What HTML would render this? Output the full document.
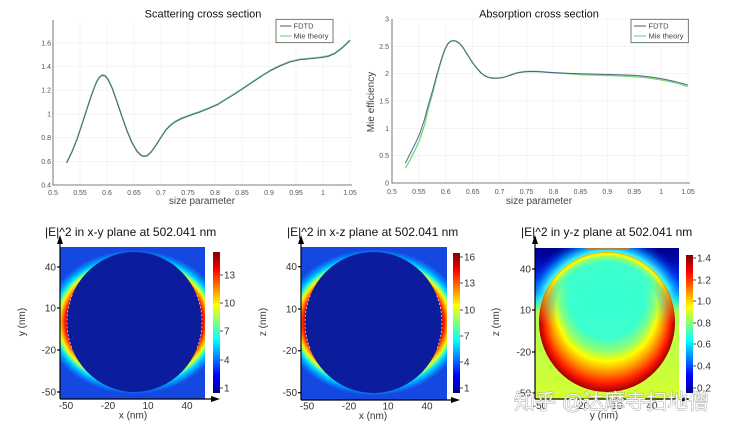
<!DOCTYPE html>
<html><head><meta charset="utf-8"><style>html,body{margin:0;padding:0;background:#fff}svg{display:block}</style></head>
<body>
<svg xmlns="http://www.w3.org/2000/svg" width="732" height="432" viewBox="0 0 732 432" font-family="Liberation Sans, sans-serif">
<defs>
  <linearGradient id="jet" x1="0" y1="0" x2="0" y2="1">
    <stop offset="0" stop-color="#800000"/>
    <stop offset="0.125" stop-color="#ff0000"/>
    <stop offset="0.375" stop-color="#ffff00"/>
    <stop offset="0.625" stop-color="#00ffff"/>
    <stop offset="0.875" stop-color="#0000ff"/>
    <stop offset="1" stop-color="#00008f"/>
  </linearGradient>
  <radialGradient id="glow" cx="0.5" cy="0.5" r="0.5">
    <stop offset="0" stop-color="#0b1d9d"/>
    <stop offset="0.74" stop-color="#8a0000"/>
    <stop offset="0.755" stop-color="#d00000"/>
    <stop offset="0.78" stop-color="#ff3000"/>
    <stop offset="0.81" stop-color="#ffa000"/>
    <stop offset="0.84" stop-color="#f0ff10"/>
    <stop offset="0.87" stop-color="#60ffa0"/>
    <stop offset="0.9" stop-color="#00d8ff"/>
    <stop offset="0.94" stop-color="#0090ff"/>
    <stop offset="1" stop-color="#1548e0"/>
  </radialGradient>
  <linearGradient id="bg3" gradientUnits="userSpaceOnUse" x1="0" y1="248" x2="0" y2="400">
    <stop offset="0" stop-color="#00008a"/>
    <stop offset="0.09" stop-color="#0008b0"/>
    <stop offset="0.2" stop-color="#0030f0"/>
    <stop offset="0.28" stop-color="#0090ff"/>
    <stop offset="0.34" stop-color="#30f0d0"/>
    <stop offset="0.42" stop-color="#b0ff50"/>
    <stop offset="1" stop-color="#d4ff30"/>
  </linearGradient>
  <radialGradient id="halo3" cx="0.5" cy="0.5" r="0.5">
    <stop offset="0.76" stop-color="#70ffa0" stop-opacity="1"/>
    <stop offset="0.8" stop-color="#30e8ff" stop-opacity="1"/>
    <stop offset="0.87" stop-color="#0090ff" stop-opacity="0.8"/>
    <stop offset="0.94" stop-color="#0040e0" stop-opacity="0.4"/>
    <stop offset="1" stop-color="#0020c0" stop-opacity="0"/>
  </radialGradient>
  <linearGradient id="mk3g" gradientUnits="userSpaceOnUse" x1="0" y1="248" x2="0" y2="400">
    <stop offset="0" stop-color="#fff"/>
    <stop offset="0.26" stop-color="#fff"/>
    <stop offset="0.4" stop-color="#000"/>
    <stop offset="1" stop-color="#000"/>
  </linearGradient>
  <mask id="mk3"><rect x="530" y="240" width="160" height="170" fill="url(#mk3g)"/></mask>
  <linearGradient id="mkin" gradientUnits="userSpaceOnUse" x1="0" y1="248" x2="0" y2="400">
    <stop offset="0" stop-color="#000"/>
    <stop offset="0.2" stop-color="#000"/>
    <stop offset="0.5" stop-color="#fff"/>
    <stop offset="1" stop-color="#fff"/>
  </linearGradient>
  <mask id="mkin3"><rect x="530" y="240" width="160" height="170" fill="url(#mkin)"/></mask>
  <radialGradient id="in3" cx="0.5" cy="0.5" r="0.5" fx="0.5" fy="0.15">
    <stop offset="0" stop-color="#38ffd4"/>
    <stop offset="0.55" stop-color="#3cffcc"/>
    <stop offset="0.66" stop-color="#90ff70"/>
    <stop offset="0.74" stop-color="#ffff00"/>
    <stop offset="0.84" stop-color="#ff8c00"/>
    <stop offset="0.93" stop-color="#ff1a00"/>
    <stop offset="1" stop-color="#a00000"/>
  </radialGradient>
  <radialGradient id="rim3" cx="0.5" cy="0.5" r="0.5">
    <stop offset="0" stop-color="#38ffd4"/>
    <stop offset="0.85" stop-color="#3cffcc"/>
    <stop offset="0.93" stop-color="#90ff70"/>
    <stop offset="0.975" stop-color="#ffff00"/>
    <stop offset="1" stop-color="#ffa000"/>
  </radialGradient>
  <clipPath id="c1"><rect x="60" y="247" width="145" height="152"/></clipPath>
  <clipPath id="c2"><rect x="301" y="247" width="146" height="153"/></clipPath>
  <clipPath id="c3"><rect x="535" y="248" width="144" height="151"/></clipPath>
</defs>

<rect width="732" height="432" fill="#fff"/>

<!-- ============ TOP LEFT: Scattering ============ -->
<g stroke="#eeeeee" stroke-width="0.6">
  <line x1="80" y1="20" x2="80" y2="185"/><line x1="107" y1="20" x2="107" y2="185"/>
  <line x1="134" y1="20" x2="134" y2="185"/><line x1="161" y1="20" x2="161" y2="185"/>
  <line x1="188" y1="20" x2="188" y2="185"/><line x1="215" y1="20" x2="215" y2="185"/>
  <line x1="242" y1="20" x2="242" y2="185"/><line x1="269" y1="20" x2="269" y2="185"/>
  <line x1="296" y1="20" x2="296" y2="185"/><line x1="323" y1="20" x2="323" y2="185"/>
  <line x1="350" y1="20" x2="350" y2="185"/>
  <line x1="53" y1="161.3" x2="352" y2="161.3"/><line x1="53" y1="137.6" x2="352" y2="137.6"/>
  <line x1="53" y1="113.9" x2="352" y2="113.9"/><line x1="53" y1="90.2" x2="352" y2="90.2"/>
  <line x1="53" y1="66.5" x2="352" y2="66.5"/><line x1="53" y1="42.8" x2="352" y2="42.8"/>
</g>
<g stroke="#555" stroke-width="0.8" fill="none">
  <line x1="53" y1="20" x2="53" y2="185.5"/>
  <line x1="52.5" y1="185" x2="352" y2="185"/>
</g>
<g font-size="7" fill="#555" text-anchor="middle">
  <text x="53" y="195">0.5</text><text x="80" y="195">0.55</text><text x="107" y="195">0.6</text>
  <text x="134" y="195">0.65</text><text x="161" y="195">0.7</text><text x="188" y="195">0.75</text>
  <text x="215" y="195">0.8</text><text x="242" y="195">0.85</text><text x="269" y="195">0.9</text>
  <text x="296" y="195">0.95</text><text x="323" y="195">1</text><text x="350" y="195">1.05</text>
</g>
<g font-size="7" fill="#555" text-anchor="end">
  <text x="51" y="187.5">0.4</text><text x="51" y="163.8">0.6</text><text x="51" y="140.1">0.8</text>
  <text x="51" y="116.4">1</text><text x="51" y="92.7">1.2</text><text x="51" y="69">1.4</text>
  <text x="51" y="45.3">1.6</text>
</g>
<text x="203" y="17.5" font-size="11" fill="#111" text-anchor="middle">Scattering cross section</text>
<text x="202" y="204" font-size="10" fill="#444" text-anchor="middle">size parameter</text>
<polyline fill="none" stroke="#7ad87a" stroke-width="1.5" stroke-linejoin="round" transform="translate(0,-0.6)"
 points="66.7,163 72,152 77,139.5 82,124.5 87,109 92,94 96,83.5 99,78 102,75.5 105,76 108,79.5 112,88 117,102 122,117 127,131 132,143 137,151.5 141,155.5 144,156.5 147,156 151,152.5 156,145.5 161,137.5 166,130 171,125 176,121.5 182,118.5 190,115.5 200,112 210,108 218,104.5 226,99.5 235,94 244,88 253,82 262,76 271,70.5 280,66 290,62 300,59.8 310,58.8 320,57.8 328,56.5 335,53.5 341,49 346,44.5 350,40.5"/>
<polyline fill="none" stroke="#44557f" stroke-width="1" stroke-linejoin="round" opacity="0.9"
 points="66.7,163 72,152 77,139.5 82,124.5 87,109 92,94 96,83.5 99,78 102,75.5 105,76 108,79.5 112,88 117,102 122,117 127,131 132,143 137,151.5 141,155.5 144,156.5 147,156 151,152.5 156,145.5 161,137.5 166,130 171,125 176,121.5 182,118.5 190,115.5 200,112 210,108 218,104.5 226,99.5 235,94 244,88 253,82 262,76 271,70.5 280,66 290,62 300,59.8 310,58.8 320,57.8 328,56.5 335,53.5 341,49 346,44.5 350,40.5"/>
<rect x="276" y="19.3" width="57" height="23.4" fill="#fff" stroke="#555" stroke-width="0.8"/>
<line x1="280" y1="26" x2="291.5" y2="26" stroke="#44557f" stroke-width="1"/>
<line x1="280" y1="36" x2="291.5" y2="36" stroke="#7ad87a" stroke-width="1.2"/>
<text x="293.5" y="28.5" font-size="7.5" fill="#444">FDTD</text>
<text x="293.5" y="38.5" font-size="7.5" fill="#444">Mie theory</text>

<!-- ============ TOP RIGHT: Absorption ============ -->
<g stroke="#eeeeee" stroke-width="0.6">
  <line x1="418.9" y1="19" x2="418.9" y2="183"/><line x1="445.8" y1="19" x2="445.8" y2="183"/>
  <line x1="472.7" y1="19" x2="472.7" y2="183"/><line x1="499.6" y1="19" x2="499.6" y2="183"/>
  <line x1="526.5" y1="19" x2="526.5" y2="183"/><line x1="553.5" y1="19" x2="553.5" y2="183"/>
  <line x1="580.4" y1="19" x2="580.4" y2="183"/><line x1="607.3" y1="19" x2="607.3" y2="183"/>
  <line x1="634.2" y1="19" x2="634.2" y2="183"/><line x1="661.1" y1="19" x2="661.1" y2="183"/>
  <line x1="688" y1="19" x2="688" y2="183"/>
  <line x1="392" y1="155.7" x2="690" y2="155.7"/><line x1="392" y1="128.3" x2="690" y2="128.3"/>
  <line x1="392" y1="101" x2="690" y2="101"/><line x1="392" y1="73.7" x2="690" y2="73.7"/>
  <line x1="392" y1="46.3" x2="690" y2="46.3"/><line x1="392" y1="19" x2="690" y2="19"/>
</g>
<g stroke="#555" stroke-width="0.8" fill="none">
  <line x1="392" y1="19" x2="392" y2="183.5"/>
  <line x1="391.5" y1="183" x2="690" y2="183"/>
</g>
<g font-size="7" fill="#555" text-anchor="middle">
  <text x="392" y="194">0.5</text><text x="418.9" y="194">0.55</text><text x="445.8" y="194">0.6</text>
  <text x="472.7" y="194">0.65</text><text x="499.6" y="194">0.7</text><text x="526.5" y="194">0.75</text>
  <text x="553.5" y="194">0.8</text><text x="580.4" y="194">0.85</text><text x="607.3" y="194">0.9</text>
  <text x="634.2" y="194">0.95</text><text x="661.1" y="194">1</text><text x="688" y="194">1.05</text>
</g>
<g font-size="7" fill="#555" text-anchor="end">
  <text x="389" y="185.5">0</text><text x="389" y="158.2">0.5</text><text x="389" y="130.8">1</text>
  <text x="389" y="103.5">1.5</text><text x="389" y="76.2">2</text><text x="389" y="48.8">2.5</text>
  <text x="389" y="21.5">3</text>
</g>
<text x="539" y="17.5" font-size="11" fill="#111" text-anchor="middle">Absorption cross section</text>
<text x="539" y="204" font-size="10" fill="#444" text-anchor="middle">size parameter</text>
<text transform="translate(374,102) rotate(-90)" font-size="10" fill="#444" text-anchor="middle">Mie efficiency</text>
<polyline fill="none" stroke="#7ad87a" stroke-width="1.4" stroke-linejoin="round"
 points="405.3,168.3 410,160 416,148 420,139 424.3,125.5 428,110 432.7,93 437,76 441,61.5 444.5,50.5 447.7,44 450.5,41.2 453.3,40.4 456,41 459.3,43.1 463,47.3 466,52.3 469.5,57.8 472.7,62.8 477,68.3 481,72.8 485,75.8 489.3,77.5 493.5,78.1 497.7,78.1 502,77.6 506,76.5 511,74.8 516,73.1 521,72.1 526,71.5 533,71.3 539.3,71.5 552,72.6 566,73.5 580,74.5 599.3,75.2 616,75.8 632.7,76.5 646,77.6 659.3,79.5 668,81.2 676,83 682,84.6 687.7,86.5"/>
<polyline fill="none" stroke="#44557f" stroke-width="1" stroke-linejoin="round" opacity="0.9"
 points="405.3,163.3 410,154 416,142 420,133 424.3,120 428,106 432.7,90 437,74 441,60.5 444.5,50 447.7,44 450.5,41.5 453.3,40.7 456,41.2 459.3,43.3 463,47.5 466,52.5 469.5,58 472.7,63 477,68.5 481,73 485,76 489.3,77.7 493.5,78.3 497.7,78.3 502,77.8 506,76.7 511,75 516,73.3 521,72.3 526,71.7 533,71.5 539.3,71.7 552,72.6 566,73.3 580,73.7 599.3,74.2 616,74.6 632.7,75.2 646,76.4 659.3,78.3 668,80 676,81.8 682,83.3 687.7,85"/>
<rect x="631" y="19.3" width="57.3" height="23.4" fill="#fff" stroke="#555" stroke-width="0.8"/>
<line x1="634" y1="26" x2="646" y2="26" stroke="#44557f" stroke-width="1"/>
<line x1="634" y1="36" x2="646" y2="36" stroke="#7ad87a" stroke-width="1.2"/>
<text x="648.5" y="28.5" font-size="7.5" fill="#444">FDTD</text>
<text x="648.5" y="38.5" font-size="7.5" fill="#444">Mie theory</text>

<!-- ============ HEATMAP 1: x-y ============ -->
<g clip-path="url(#c1)">
  <rect x="60" y="247" width="145" height="152" fill="#1548e0"/>
  <ellipse cx="134.5" cy="322" rx="90" ry="72" fill="url(#glow)"/>
  <ellipse cx="134.5" cy="322" rx="67.5" ry="70" fill="#0b1d9d"/>
  <path d="M72.2,295 A67.5,70 0 0 0 72.2,349" fill="none" stroke="#fff" stroke-width="0.8" stroke-dasharray="2 2" opacity="0.8"/>
  <path d="M196.8,295 A67.5,70 0 0 1 196.8,349" fill="none" stroke="#fff" stroke-width="0.8" stroke-dasharray="2 2" opacity="0.8"/>
</g>
<rect x="213" y="252" width="7" height="141" fill="url(#jet)"/>
<g stroke="#222" stroke-width="0.8">
  <line x1="220" y1="275" x2="223" y2="275"/><line x1="220" y1="303" x2="223" y2="303"/>
  <line x1="220" y1="331" x2="223" y2="331"/><line x1="220" y1="360" x2="223" y2="360"/>
  <line x1="220" y1="388" x2="223" y2="388"/>
</g>
<g font-size="10" fill="#333">
  <text x="224" y="278.5">13</text><text x="224" y="306.5">10</text><text x="224" y="334.5">7</text>
  <text x="224" y="363.5">4</text><text x="224" y="391.5">1</text>
</g>
<text x="45" y="236" font-size="12" fill="#111">|E|^2 in x-y plane at 502.041 nm</text>
<g stroke="#000" stroke-width="1.2">
  <line x1="60" y1="399" x2="60" y2="242"/>
  <line x1="60" y1="399" x2="212" y2="399"/>
  <line x1="57" y1="267" x2="60" y2="267"/><line x1="57" y1="308" x2="60" y2="308"/>
  <line x1="57" y1="350" x2="60" y2="350"/><line x1="57" y1="392" x2="60" y2="392"/>
</g>
<polygon points="60,235 57,244 63,244" fill="#000"/>
<polygon points="220,399 211,396 211,402" fill="#000"/>
<g font-size="10" fill="#333" text-anchor="end">
  <text x="56" y="270.5">40</text><text x="56" y="311.5">10</text>
  <text x="56" y="353.5">-20</text><text x="56" y="395.5">-50</text>
</g>
<g font-size="10" fill="#333" text-anchor="middle">
  <text x="66" y="409">-50</text><text x="108" y="409">-20</text>
  <text x="148" y="409">10</text><text x="187" y="409">40</text>
  <text x="133" y="418.5">x (nm)</text>
</g>
<text transform="translate(25,322) rotate(-90)" font-size="10" fill="#333" text-anchor="middle">y (nm)</text>

<!-- ============ HEATMAP 2: x-z ============ -->
<g clip-path="url(#c2)">
  <rect x="301" y="247" width="146" height="153" fill="#1548e0"/>
  <ellipse cx="373.5" cy="322.5" rx="91.3" ry="73" fill="url(#glow)"/>
  <ellipse cx="373.5" cy="322.5" rx="68.5" ry="70.5" fill="#0b1d9d"/>
  <path d="M310.3,295.5 A68.5,70.5 0 0 0 310.3,349.5" fill="none" stroke="#fff" stroke-width="0.8" stroke-dasharray="2 2" opacity="0.8"/>
  <path d="M436.7,295.5 A68.5,70.5 0 0 1 436.7,349.5" fill="none" stroke="#fff" stroke-width="0.8" stroke-dasharray="2 2" opacity="0.8"/>
</g>
<rect x="453" y="253" width="7" height="140" fill="url(#jet)"/>
<g stroke="#222" stroke-width="0.8">
  <line x1="460" y1="257" x2="463" y2="257"/><line x1="460" y1="283" x2="463" y2="283"/>
  <line x1="460" y1="310" x2="463" y2="310"/><line x1="460" y1="336" x2="463" y2="336"/>
  <line x1="460" y1="362" x2="463" y2="362"/><line x1="460" y1="388" x2="463" y2="388"/>
</g>
<g font-size="10" fill="#333">
  <text x="464" y="260.5">16</text><text x="464" y="286.5">13</text><text x="464" y="313.5">10</text>
  <text x="464" y="339.5">7</text><text x="464" y="365.5">4</text><text x="464" y="391.5">1</text>
</g>
<text x="287" y="236" font-size="12" fill="#111">|E|^2 in x-z plane at 502.041 nm</text>
<g stroke="#000" stroke-width="1.2">
  <line x1="301" y1="400" x2="301" y2="242"/>
  <line x1="301" y1="400" x2="452" y2="400"/>
  <line x1="298" y1="266.7" x2="301" y2="266.7"/><line x1="298" y1="309" x2="301" y2="309"/>
  <line x1="298" y1="350.7" x2="301" y2="350.7"/><line x1="298" y1="392.7" x2="301" y2="392.7"/>
</g>
<polygon points="301,235 298,244 304,244" fill="#000"/>
<polygon points="460,400 451,397 451,403" fill="#000"/>
<g font-size="10" fill="#333" text-anchor="end">
  <text x="297" y="270.2">40</text><text x="297" y="312.5">10</text>
  <text x="297" y="354.2">-20</text><text x="297" y="396.2">-50</text>
</g>
<g font-size="10" fill="#333" text-anchor="middle">
  <text x="307" y="409.5">-50</text><text x="349" y="409.5">-20</text>
  <text x="388" y="409.5">10</text><text x="427" y="409.5">40</text>
  <text x="373" y="419">x (nm)</text>
</g>
<text transform="translate(266,322) rotate(-90)" font-size="10" fill="#333" text-anchor="middle">z (nm)</text>

<!-- ============ HEATMAP 3: y-z ============ -->
<g clip-path="url(#c3)">
  <rect x="535" y="248" width="144" height="152" fill="url(#bg3)"/>
  <ellipse cx="607" cy="322" rx="88" ry="90" fill="url(#halo3)" mask="url(#mk3)"/>
  <ellipse cx="607" cy="322" rx="68" ry="70" fill="url(#rim3)"/>
  <ellipse cx="607" cy="322" rx="68" ry="70" fill="url(#in3)" mask="url(#mkin3)"/>
  <rect x="585" y="248" width="44" height="2" fill="#ff6000" opacity="0.7"/>
</g>
<rect x="686" y="255" width="7" height="138" fill="url(#jet)"/>
<g stroke="#222" stroke-width="0.8">
  <line x1="693" y1="258" x2="696" y2="258"/><line x1="693" y1="280" x2="696" y2="280"/>
  <line x1="693" y1="301" x2="696" y2="301"/><line x1="693" y1="323" x2="696" y2="323"/>
  <line x1="693" y1="344" x2="696" y2="344"/><line x1="693" y1="366" x2="696" y2="366"/>
  <line x1="693" y1="388" x2="696" y2="388"/>
</g>
<g font-size="10" fill="#333">
  <text x="697" y="261.5">1.4</text><text x="697" y="283.5">1.2</text><text x="697" y="304.5">1.0</text>
  <text x="697" y="326.5">0.8</text><text x="697" y="347.5">0.6</text><text x="697" y="369.5">0.4</text>
  <text x="697" y="391.5">0.2</text>
</g>
<text x="521" y="236" font-size="12" fill="#111">|E|^2 in y-z plane at 502.041 nm</text>
<g stroke="#000" stroke-width="1.2">
  <line x1="535" y1="399" x2="535" y2="242"/>
  <line x1="535" y1="399" x2="682" y2="399"/>
  <line x1="532" y1="269" x2="535" y2="269"/><line x1="532" y1="310" x2="535" y2="310"/>
  <line x1="532" y1="352" x2="535" y2="352"/><line x1="532" y1="393" x2="535" y2="393"/>
</g>
<polygon points="535,235 532,244 538,244" fill="#000"/>
<polygon points="690,399 681,396 681,402" fill="#000"/>
<g font-size="10" fill="#333" text-anchor="end">
  <text x="531" y="272.5">40</text><text x="531" y="313.5">10</text>
  <text x="531" y="355.5">-20</text><text x="531" y="396.5">-50</text>
</g>
<g font-size="10" fill="#333" text-anchor="middle">
  <text x="540" y="409">-50</text><text x="582" y="409">-20</text>
  <text x="617" y="409">10</text><text x="652" y="409">40</text>
  <text x="604" y="418.5">y (nm)</text>
</g>
<text transform="translate(499,322) rotate(-90)" font-size="10" fill="#333" text-anchor="middle">z (nm)</text>

<!-- watermark -->
<text x="514" y="409" font-size="21" font-family="Liberation Sans, Noto Sans CJK SC, sans-serif" fill="#ffffff" fill-opacity="0.9" stroke="#808080" stroke-opacity="0.7" stroke-width="0.9" paint-order="stroke">知乎 @达摩寺扫地僧</text>
</svg>
</body></html>
